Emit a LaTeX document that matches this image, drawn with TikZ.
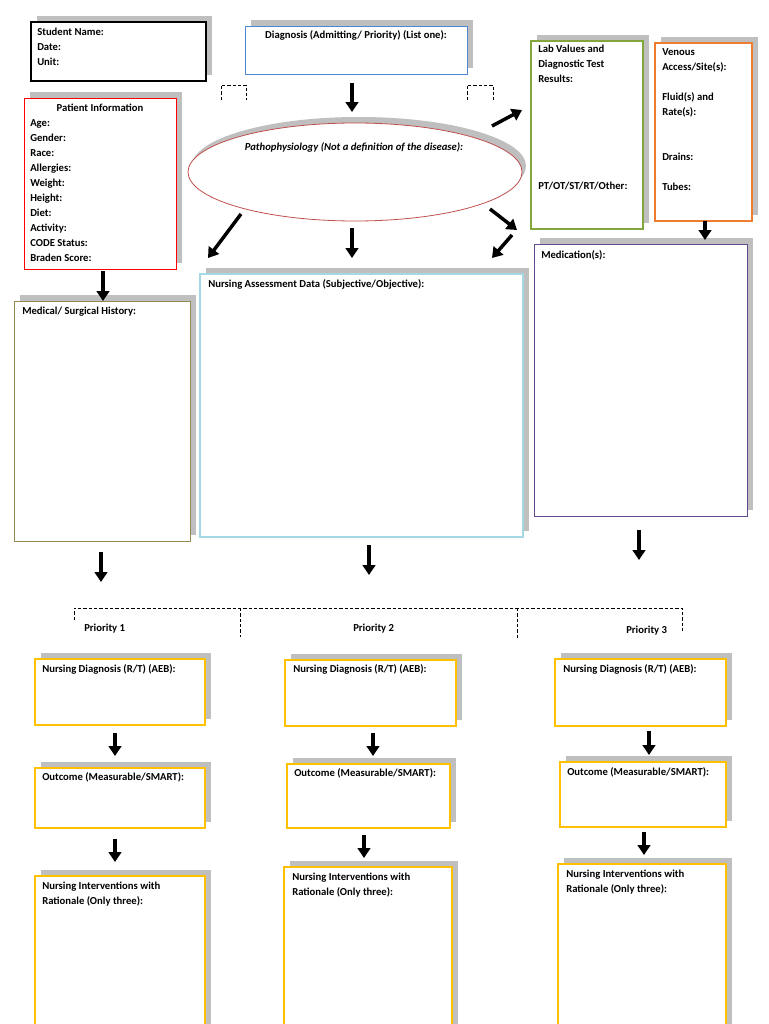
\documentclass[tikz,border=0pt]{standalone}
\usepackage{fontspec}
\setmainfont{Carlito}
\usetikzlibrary{arrows.meta,shapes.geometric,shadows,fit}
\definecolor{shgray}{RGB}{191,191,191}
\definecolor{pired}{RGB}{255,0,0}
\definecolor{diagblue}{RGB}{79,134,214}
\definecolor{ellred}{RGB}{192,80,77}
\definecolor{labgreen}{RGB}{130,165,60}
\definecolor{venorange}{RGB}{237,125,49}
\definecolor{medpurple}{RGB}{96,73,140}
\definecolor{nablue}{RGB}{165,215,228}
\definecolor{histtan}{RGB}{148,138,84}
\definecolor{prioyellow}{RGB}{255,192,0}
\tikzset{
  box/.style={draw, line width=0.6pt, fill=white, inner sep=0pt,
    general shadow={shadow xshift=4.5pt, shadow yshift=4.5pt, fill=shgray}},
  pbox/.style={box, draw=prioyellow, line width=0.9pt},
  txt/.style={inner sep=0pt, anchor=north west, align=left,
    font=\fontsize{8}{11.25}\selectfont\bfseries},
  dashbr/.style={draw=black, line width=0.6pt, dash pattern=on 2.5pt off 1.5pt},
  arr/.style={draw=black, line width=2.6pt, -{Triangle[length=7.5pt,width=9.5pt]}}
}
\begin{document}
\begin{tikzpicture}[x=0.75pt,y=-0.75pt]
\useasboundingbox (0,0) rectangle (768,1024);
\fill[white] (0,0) rectangle (768,1024);

% Student box
\node[box, draw=black, line width=0.9pt, fit={(31,22) (206,81)}] (student) {};
\node[txt] (studenttxt) at (37,25) {\strut Student Name:\\Date:\\Unit:};

% Patient information
\node[box, draw=pired, line width=0.7pt, fit={(24,98) (176,269)}] (pinfo) {};
\node[txt, anchor=north] (pititle) at (100,101) {\strut Patient Information};
\node[txt] (pilist) at (30,116) {\strut Age:\\Gender:\\Race:\\Allergies:\\Weight:\\Height:\\Diet:\\Activity:\\CODE Status:\\Braden Score:};

% Diagnosis
\node[box, draw=diagblue, line width=0.7pt, fit={(245,26) (467,74)}] (diag) {};
\node[txt, anchor=north] (diagtxt) at (356,28) {\strut Diagnosis (Admitting/ Priority) (List one):};

% small dashed brackets
\draw[dashbr] (221,100) -- (221,85) -- (246,85) -- (246,100);
\draw[dashbr] (467,100) -- (467,85) -- (493,85) -- (493,100);

% Pathophysiology ellipse
\node[ellipse, draw=ellred, line width=0.6pt, fill=white, inner sep=0pt,
  minimum width=250.5pt, minimum height=73.5pt,
  general shadow={shadow xshift=3pt, shadow yshift=4.5pt, fill=shgray}] (patho) at (355,172) {};
\node[txt, anchor=north] (pathotxt) at (354,140) {\strut\itshape Pathophysiology (Not a definition of the disease):};

% Lab values
\node[box, draw=labgreen, line width=0.8pt, fit={(531,41) (643,229)}] (lab) {};
\node[txt] (labtxt) at (538,42) {\strut Lab Values and\\Diagnostic Test\\Results:};
\node[txt] (labpt) at (538,179) {\strut PT/OT/ST/RT/Other:};

% Venous access
\node[box, draw=venorange, line width=0.9pt, fit={(655,43) (752,221)}] (venous) {};
\node[txt] (ventxt) at (662,45) {\strut Venous\\Access/Site(s):\\[11.25pt]Fluid(s) and\\Rate(s):\\[22.5pt]Drains:\\[11.25pt]Tubes:};

% Medications
\node[box, draw=medpurple, line width=0.7pt, fit={(534,244) (747,516)}] (meds) {};
\node[txt] (medstxt) at (541,248) {\strut Medication(s):};

% Nursing assessment
\node[box, draw=nablue, line width=1.1pt, fit={(200,274) (523,537)}] (nassess) {};
\node[txt] (nassesstxt) at (208,277) {\strut Nursing Assessment Data (Subjective/Objective):};

% Medical / surgical history
\node[box, draw=histtan, line width=0.7pt, fit={(14,301) (190,541)}] (hist) {};
\node[txt] (histtxt) at (22,304) {\strut Medical/ Surgical History:};

% Priority bracket
\draw[dashbr] (74,620) -- (74,608) -- (682,608) -- (682,633);
\draw[dashbr] (240,608) -- (240,637);
\draw[dashbr] (517,608) -- (517,638);
\node[txt] (p1) at (84,621) {\strut Priority 1};
\node[txt] (p2) at (353,621) {\strut Priority 2};
\node[txt] (p3) at (626,623) {\strut Priority 3};

% Priority 1 column
\node[pbox, fit={(35,659) (205,725)}] (nd1) {};
\node[txt] (nd1txt) at (42,662) {\strut Nursing Diagnosis (R/T) (AEB):};
\node[pbox, fit={(35,768) (205,828)}] (oc1) {};
\node[txt] (oc1txt) at (42,770) {\strut Outcome (Measurable/SMART):};
\node[pbox, fit={(35,876) (205,1032)}] (ni1) {};
\node[txt] (ni1txt) at (42,879) {\strut Nursing Interventions with\\Rationale (Only three):};

% Priority 2 column
\node[pbox, fit={(285,660) (456,726)}] (nd2) {};
\node[txt] (nd2txt) at (293,662) {\strut Nursing Diagnosis (R/T) (AEB):};
\node[pbox, fit={(287,764) (450,828)}] (oc2) {};
\node[txt] (oc2txt) at (294,766) {\strut Outcome (Measurable/SMART):};
\node[pbox, fit={(284,867) (452,1032)}] (ni2) {};
\node[txt] (ni2txt) at (292,870) {\strut Nursing Interventions with\\Rationale (Only three):};

% Priority 3 column
\node[pbox, fit={(555,659) (726,726)}] (nd3) {};
\node[txt] (nd3txt) at (563,662) {\strut Nursing Diagnosis (R/T) (AEB):};
\node[pbox, fit={(560,762) (726,827)}] (oc3) {};
\node[txt] (oc3txt) at (567,765) {\strut Outcome (Measurable/SMART):};
\node[pbox, fit={(558,864) (726,1032)}] (ni3) {};
\node[txt] (ni3txt) at (566,867) {\strut Nursing Interventions with\\Rationale (Only three):};

% Arrows
\foreach \n/\xa/\ya/\xb/\yb in {
  diagpatho/352/83/352/112,
  patholab/492/126/522/110,
  pathoven/490/209/517/230,
  pathomed/512/235/492/258,
  pathohist/241/214/208/258,
  pathona/352/228/352/258,
  pihist/103/271/103/301,
  venmeds/705/221/705/240,
  histdown/101/552/101/582,
  nadown/369/545/369/575,
  medsdown/639/530/639/560,
  ndoca/115/733/115/756,
  ocnia/115/839/115/862,
  ndocb/373/733/373/756,
  ocnib/364/835/364/858,
  ndocc/649/731/649/755,
  ocnic/644/832/644/855} {
  \coordinate (\n-s) at (\xa,\ya);
  \coordinate (\n-e) at (\xb,\yb);
  \draw[arr] (\n-s) -- (\n-e);
}
\end{tikzpicture}
\end{document}
